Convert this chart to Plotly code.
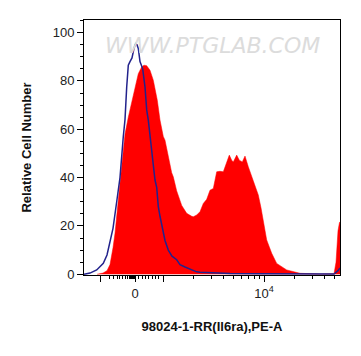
import plotly.graph_objects as go

# x in display channels (0..256 across the biexponential axis)
red_x = [13, 19, 23, 26, 29, 31, 34.3, 37.7, 39.5, 41, 44.3, 47.7, 51, 54.3, 57.7, 60, 62.7, 66,
         69.3, 73.3, 76, 79.3, 81, 84.3, 87.7, 89.3, 92.7, 97.7, 102.7, 107.7, 109.3, 112.7, 116,
         119.3, 122.7, 126, 129.3, 132.7, 136, 139.3, 142.7, 145.3, 147.7, 149.3, 152.7, 155.3,
         158.3, 161, 164.3, 169.3, 174.3, 177, 179.3, 182.7, 187.7, 192.7, 202.7, 216, 236, 250,
         252, 254, 255.5, 256]
red_y = [0, 0.5, 1.5, 4, 11, 17, 30.7, 44.5, 53, 58, 65, 70.7, 77.5, 83, 85.8, 86.5, 86.3, 84.4,
         80.3, 72, 63.8, 57, 55.5, 48.6, 42, 40.3, 34.5, 28.5, 25.2, 24, 23.8, 24.5, 25.9,
         29.3, 31, 34.8, 35.5, 42.4, 42.6, 42.4, 45.9, 49.3, 47.2, 46.5, 49.3, 47.2,
         46.5, 48.9, 44.5, 38.3, 32.8, 27.5, 22.4, 14.2, 8.7, 4.5, 1.8, 0.4, 0.1, 0.2,
         5, 18, 21.5, 21.5]

blue_x = [0, 6, 12.7, 19.3, 23, 26, 29, 32.7, 36, 39.3, 41, 42.7, 44.3, 46, 48, 50, 51.7, 53,
          54.3, 56, 58.7, 61, 62.7, 64.3, 67.7, 71, 72.7, 74.3, 76, 79.3, 81, 84.3, 88, 92.7,
          96, 101, 106, 112.7, 116, 129, 146, 176, 216, 250, 254, 256]
blue_y = [0, 0.5, 1.8, 4.5, 8, 13, 19, 30, 40, 57, 64, 77.5, 86.5, 88, 89.5, 93.5, 95.4, 95,
          93.4, 88, 85, 77.5, 68, 63.8, 50, 39, 36, 28, 24, 17, 14, 10, 7.5, 6,
          4, 3, 2, 1, 0.8, 0.5, 0.3, 0.2, 0.1, 0.1, 1.5, 2.6]

x_major_vals = [16, 51, 79, 180]
x_major_text = ["", "0", "", "10<sup>4</sup>"]
x_minor_vals = [25, 29, 33, 35, 38, 41, 43, 45, 46, 47, 48, 49, 50, 54, 58, 61, 64, 68, 71, 74,
                109.4, 127.2, 139.8, 149.6, 157.6, 164.4, 170.2, 175.4,
                210.4, 228.2, 240.8, 250.6]
y_ticks = [0, 20, 40, 60, 80, 100]

fig = go.Figure()
fig.add_trace(go.Scatter(x=red_x, y=red_y, mode="lines", fill="tozeroy",
                         line=dict(color="#ff0000", width=0.5), fillcolor="#ff0000",
                         hoverinfo="skip", showlegend=False))
fig.add_trace(go.Scatter(x=blue_x, y=blue_y, mode="lines",
                         line=dict(color="#22228c", width=1.5),
                         hoverinfo="skip", showlegend=False))

fig.update_layout(
    width=361, height=356,
    margin=dict(l=84, r=21, t=20, b=81),
    paper_bgcolor="white", plot_bgcolor="white",
    font=dict(family="Liberation Sans, Arial", color="#222222", size=13),
    xaxis=dict(range=[0, 256], showgrid=False, zeroline=False,
               showline=True, linecolor="black", linewidth=1, mirror=True,
               ticks="outside", ticklen=6, tickcolor="black",
               tickvals=x_major_vals, ticktext=x_major_text,
               tickfont=dict(size=13, color="#222222"),
               minor=dict(tickvals=x_minor_vals, ticks="outside", ticklen=3, tickcolor="black"),
               title=dict(text="<b>98024-1-RR(Il6ra),PE-A</b>", font=dict(size=13, color="#111111"),
                          standoff=22)),
    yaxis=dict(range=[-0.3, 105.2], showgrid=False, zeroline=False,
               showline=True, linecolor="black", linewidth=1, mirror=True,
               ticks="outside", ticklen=6, tickcolor="black",
               tickvals=y_ticks, tickfont=dict(size=13, color="#222222"),
               minor=dict(dtick=5, ticks="outside", ticklen=3, tickcolor="black"),
               title=dict(text="<b>Relative Cell Number</b>", font=dict(size=13, color="#111111"),
                          standoff=18)),
    annotations=[dict(text="<i>WWW.PTGLAB.COM</i>", x=0.5, y=0.955, xref="paper", yref="paper",
                      showarrow=False, font=dict(family="DejaVu Sans", size=22, color="#dcdcdc"))],
)

fig.write_html("out.html")
